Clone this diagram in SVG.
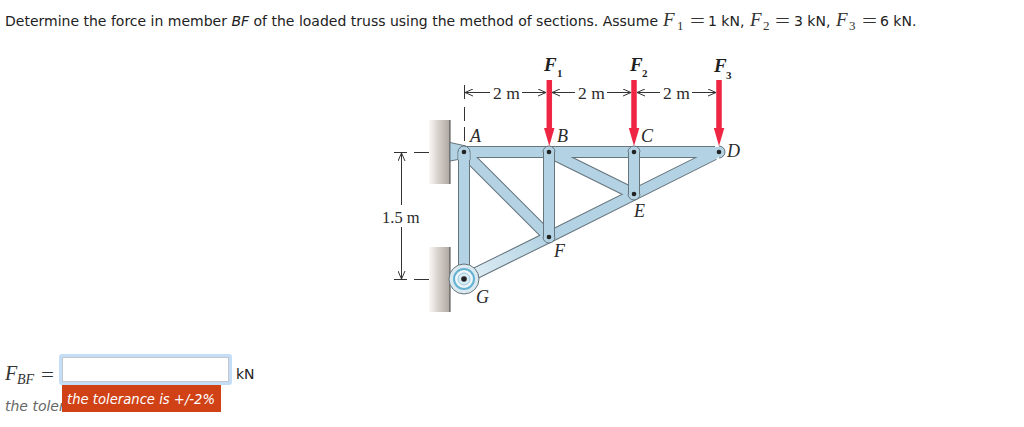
<svg xmlns="http://www.w3.org/2000/svg" width="1024" height="427" viewBox="0 0 1024 427">
<style>
.ui{font-family:"DejaVu Sans",Verdana,sans-serif;font-size:14px;fill:#222}
.m{font-family:"Liberation Serif","Times New Roman",serif;font-style:italic;fill:#333}
.n{font-family:"Liberation Serif","Times New Roman",serif;fill:#333}
.dl{font-family:"Liberation Serif","Times New Roman",serif;font-size:17.5px;fill:#2a2a2a}
.lab{font-family:"Liberation Serif","Times New Roman",serif;font-style:italic;font-size:18px;fill:#2a2a2a}
.fl{font-family:"Liberation Serif","Times New Roman",serif;font-style:italic;font-weight:bold;font-size:19px;fill:#1f1f1f}
.fs{font-family:"Liberation Serif",serif;font-weight:bold;font-size:11px;fill:#1f1f1f}
.bar{stroke:#66747c;stroke-width:12;fill:none}
.fill{stroke:#b3d2e3;stroke-width:10;fill:none}
.pin{fill:#222}
.cap{fill:#b3d2e3;stroke:#66747c;stroke-width:1}
.dim{stroke:#333;stroke-width:1;fill:none}
.force{stroke:#ee2644;stroke-width:5.500}
.fh{fill:#ee2644}
</style>
<defs>
<linearGradient id="wall" x1="0" x2="1" y1="0" y2="0"><stop offset="0" stop-color="#faf9f8"/><stop offset=".3" stop-color="#e2ddd9"/><stop offset="1" stop-color="#ada59e"/></linearGradient>
<linearGradient id="low" gradientUnits="userSpaceOnUse" x1="464" y1="279" x2="549" y2="237"><stop offset="0" stop-color="#e1eff6"/><stop offset="1" stop-color="#b3d2e3"/></linearGradient>
<marker id="ah" viewBox="0 0 8 8" refX="8" refY="4" markerWidth="8" markerHeight="8" markerUnits="userSpaceOnUse" orient="auto-start-reverse"><path d="M0 0.500L8 4L0 7.500" fill="none" stroke="#333" stroke-width="1"/></marker>
</defs>

<g id="question">
<text class="ui" x="5" y="26" textLength="653" lengthAdjust="spacingAndGlyphs">Determine the force in member <tspan font-style="italic">BF</tspan> of the loaded truss using the method of sections. Assume</text>
<text class="m" x="663" y="26" font-size="19">F</text><text class="n" x="677" y="30" font-size="13">1</text>
<text class="n" x="690" y="27" font-size="18" textLength="15" lengthAdjust="spacingAndGlyphs">=</text><text class="ui" x="708" y="26">1 kN,</text>
<text class="m" x="750" y="26" font-size="19">F</text><text class="n" x="763" y="30" font-size="13">2</text>
<text class="n" x="775" y="27" font-size="18" textLength="15" lengthAdjust="spacingAndGlyphs">=</text><text class="ui" x="794" y="26">3 kN,</text>
<text class="m" x="836" y="26" font-size="19">F</text><text class="n" x="849" y="30" font-size="13">3</text>
<text class="n" x="862" y="27" font-size="18" textLength="15" lengthAdjust="spacingAndGlyphs">=</text><text class="ui" x="880" y="26">6 kN.</text>
</g>

<g id="wall">
<rect x="429" y="120" width="21" height="64" fill="url(#wall)"/>
<rect x="429" y="247" width="21" height="65" fill="url(#wall)"/>
<path d="M450 120V184M450 247V312" stroke="#444" stroke-width="1"/>
</g>

<g id="connectors">
<path d="M450 142.500L466 146V158L450 161Z" class="cap"/>
<path class="bar" d="M464 152H715M464 152L549 237M549 152L634 194"/>
<path class="bar" d="M464 279L549 237L714 154.500"/>
<path class="fill" d="M464 152H716M464 152L549 237M549 152L634 194"/>
<path d="M464 279L549 237" stroke="url(#low)" stroke-width="10" fill="none"/>
<path class="fill" d="M549 237L716 153.500"/>
<path class="bar" d="M464 152V272"/><path class="fill" d="M464 152V272"/>
<path class="bar" d="M549 152V237"/><path class="fill" d="M549 152V237"/>
<path class="bar" d="M634 152V194"/><path class="fill" d="M634 152V194"/>
</g>

<g id="node-A"><path class="cap" d="M458 160V152a6 6 0 0 1 12 0V160" style="stroke-width:1"/><path d="M458.500 160h11V152h-11z" fill="#b3d2e3"/><circle class="pin" cx="464" cy="152" r="2.300"/></g>
<g id="node-B"><path class="cap" d="M543 152a6 6 0 0 1 12 0" /><circle class="pin" cx="549" cy="152" r="2.300"/></g>
<g id="node-C"><path class="cap" d="M628 152a6 6 0 0 1 12 0" /><circle class="pin" cx="634" cy="152" r="2.300"/></g>
<g id="node-D"><path class="cap" d="M719 146a6 6 0 0 1 0 12" /><path d="M712 147H719V157H712Z" fill="#b3d2e3"/><circle class="pin" cx="719" cy="152" r="2.300"/></g>
<g id="node-E"><path class="cap" d="M628 194a6 6 0 0 0 12 0"/><circle class="pin" cx="634" cy="194" r="2.300"/></g>
<g id="node-F"><path class="cap" d="M543 237a6 6 0 0 0 12 0"/><circle class="pin" cx="549" cy="237" r="2.300"/></g>
<g id="node-G"><circle cx="464" cy="279" r="15" fill="#dbe9f1" stroke="#66747c" stroke-width="1"/><circle cx="464" cy="279" r="10" fill="#eef6fa" stroke="#64b2d2" stroke-width="2"/><circle cx="464" cy="279" r="6" fill="#d6ebf4" stroke="#9cc9de" stroke-width="1"/><circle class="pin" cx="464" cy="279" r="2.800"/></g>

<g id="forces">
<path class="force" d="M549.300 80V132"/><path class="fh" d="M544 128H554.500L549.300 146Z"/>
<path class="force" d="M634 80V132"/><path class="fh" d="M628.800 128H639.300L634 146Z"/>
<path class="force" d="M719 80V132"/><path class="fh" d="M713.800 128H724.300L719 146Z"/>
<text class="fl" x="544" y="71">F</text><text class="fs" x="557" y="77">1</text>
<text class="fl" x="630" y="71">F</text><text class="fs" x="642" y="77">2</text>
<text class="fl" x="714" y="72">F</text><text class="fs" x="726" y="79">3</text>
</g>

<g id="dimensions">
<path class="dim" d="M464.500 85V99M464.500 107V121M464.500 127V141"/>
<path class="dim" d="M490 92.500H465" marker-end="url(#ah)"/>
<path class="dim" d="M522 92.500H546" marker-end="url(#ah)"/>
<path class="dim" d="M575 92.500H552" marker-end="url(#ah)"/>
<path class="dim" d="M607 92.500H631" marker-end="url(#ah)"/>
<path class="dim" d="M660 92.500H637" marker-end="url(#ah)"/>
<path class="dim" d="M692 92.500H716" marker-end="url(#ah)"/>
<text class="dl" x="493" y="98.500">2 m</text>
<text class="dl" x="578" y="98.500">2 m</text>
<text class="dl" x="663" y="98.500">2 m</text>
<path class="dim" d="M394 152.500H407M414 152.500H429M394 279.500H407M414 279.500H429"/>
<path class="dim" d="M401.500 205V153" marker-end="url(#ah)"/>
<path class="dim" d="M401.500 227V279" marker-end="url(#ah)"/>
<text class="dl" x="382" y="223" style="font-size:16.5px">1.5 m</text>
<text class="lab" x="470" y="141.500">A</text>
<text class="lab" x="557" y="141.500">B</text>
<text class="lab" x="641" y="141.500">C</text>
<text class="lab" x="727" y="157">D</text>
<text class="lab" x="634" y="217">E</text>
<text class="lab" x="554" y="257">F</text>
<text class="lab" x="476" y="303">G</text>
</g>

<g id="answer">
<text class="m" x="5" y="380" font-size="20">F</text><text class="m" x="17" y="384" font-size="14">BF</text>
<text class="n" x="41" y="381" font-size="18" textLength="13" lengthAdjust="spacingAndGlyphs">=</text>
<rect x="59" y="354" width="173" height="31" rx="3" fill="#c4def8"/>
<rect x="62.500" y="357.500" width="166" height="24" fill="#fff" stroke="#c3c7cb" stroke-width="1"/>
<text class="ui" x="236" y="379">kN</text>
<text class="ui" x="5" y="411" font-style="italic" style="fill:#666">the toler</text>
<rect x="62" y="385" width="159" height="27" fill="#d04216"/>
<text class="ui" x="67" y="404" font-style="italic" style="fill:#fff" textLength="148" lengthAdjust="spacingAndGlyphs">the tolerance is +/-2%</text>
</g>
</svg>
